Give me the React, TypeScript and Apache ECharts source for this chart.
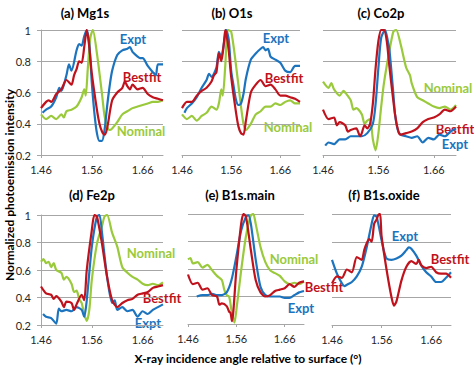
import React, { useEffect, useRef } from "react";
import * as echarts from "echarts";

type Pt = [number, number];

const xTicks = [1.46, 1.56, 1.66];
const xMin = 1.46;
const xMax = 1.7;
const yMin = 0.2;
const yMax = 1;
const yStep = 0.2;

const seriesNames = ["Nominal", "Expt", "Bestfit"];
const panelTitles = ["(a) Mg1s", "(b) O1s", "(c) Co2p", "(d) Fe2p", "(e) B1s.main", "(f) B1s.oxide"];

// (a) Mg1s
const mg1sExpt: Pt[] = [
  [1.463, 0.47], [1.47, 0.49], [1.48, 0.51], [1.49, 0.57], [1.496, 0.63], [1.5, 0.61], [1.51, 0.71], [1.515, 0.78],
  [1.52, 0.74], [1.53, 0.87], [1.535, 0.91], [1.54, 0.9], [1.545, 0.96], [1.55, 1.0], [1.555, 0.91], [1.56, 0.66],
  [1.565, 0.47], [1.57, 0.34], [1.575, 0.29], [1.58, 0.29], [1.585, 0.36], [1.59, 0.51], [1.595, 0.64], [1.6, 0.74],
  [1.61, 0.84], [1.62, 0.87], [1.63, 0.88], [1.635, 0.89], [1.64, 0.86], [1.65, 0.83], [1.655, 0.82], [1.66, 0.82],
  [1.67, 0.77], [1.68, 0.73], [1.686, 0.71], [1.69, 0.78], [1.7, 0.78],
];
const mg1sBest: Pt[] = [
  [1.46, 0.5], [1.47, 0.54], [1.475, 0.55], [1.48, 0.54], [1.49, 0.59], [1.5, 0.62], [1.51, 0.68], [1.52, 0.65],
  [1.525, 0.71], [1.53, 0.75], [1.535, 0.8], [1.54, 0.79], [1.545, 0.89], [1.55, 1.0], [1.555, 0.89], [1.56, 0.72],
  [1.57, 0.49], [1.575, 0.4], [1.58, 0.35], [1.585, 0.33], [1.59, 0.37], [1.6, 0.55], [1.61, 0.6], [1.62, 0.63],
  [1.625, 0.67], [1.63, 0.64], [1.635, 0.62], [1.64, 0.65], [1.65, 0.62], [1.66, 0.63], [1.67, 0.59], [1.68, 0.57],
  [1.69, 0.56], [1.7, 0.55],
];
const mg1sNom: Pt[] = [
  [1.46, 0.46], [1.47, 0.43], [1.48, 0.45], [1.49, 0.43], [1.5, 0.46], [1.505, 0.44], [1.51, 0.48], [1.52, 0.49],
  [1.53, 0.51], [1.54, 0.57], [1.545, 0.62], [1.548, 0.58], [1.552, 0.75], [1.557, 0.95], [1.562, 1.0], [1.57, 0.85],
  [1.58, 0.59], [1.585, 0.45], [1.59, 0.38], [1.595, 0.36], [1.6, 0.37], [1.61, 0.41], [1.62, 0.46], [1.63, 0.48],
  [1.64, 0.5], [1.65, 0.51], [1.66, 0.52], [1.67, 0.53], [1.68, 0.54], [1.69, 0.54], [1.7, 0.55],
];

// (b) O1s
const o1sExpt: Pt[] = [
  [1.465, 0.47], [1.47, 0.5], [1.48, 0.53], [1.49, 0.57], [1.5, 0.63], [1.51, 0.68], [1.515, 0.72], [1.52, 0.7],
  [1.53, 0.76], [1.535, 0.86], [1.54, 0.83], [1.545, 0.91], [1.55, 1.0], [1.555, 0.94], [1.56, 0.74], [1.565, 0.64],
  [1.57, 0.55], [1.575, 0.52], [1.58, 0.53], [1.585, 0.59], [1.59, 0.69], [1.6, 0.81], [1.61, 0.85], [1.62, 0.88],
  [1.625, 0.89], [1.63, 0.87], [1.635, 0.88], [1.64, 0.83], [1.65, 0.81], [1.66, 0.79], [1.67, 0.74], [1.68, 0.73],
  [1.69, 0.77], [1.7, 0.77],
];
const o1sBest: Pt[] = [
  [1.46, 0.5], [1.47, 0.54], [1.48, 0.54], [1.49, 0.58], [1.5, 0.61], [1.51, 0.63], [1.52, 0.67], [1.525, 0.71],
  [1.53, 0.73], [1.535, 0.85], [1.54, 0.8], [1.545, 0.91], [1.548, 1.0], [1.55, 0.98], [1.555, 0.87], [1.56, 0.7],
  [1.57, 0.47], [1.575, 0.38], [1.58, 0.34], [1.585, 0.33], [1.59, 0.42], [1.6, 0.6], [1.61, 0.65], [1.62, 0.68],
  [1.63, 0.64], [1.64, 0.65], [1.65, 0.62], [1.66, 0.58], [1.67, 0.58], [1.68, 0.57], [1.69, 0.56], [1.7, 0.54],
];
const o1sNom: Pt[] = [
  [1.46, 0.46], [1.47, 0.43], [1.48, 0.45], [1.49, 0.42], [1.5, 0.45], [1.51, 0.47], [1.52, 0.51], [1.53, 0.49],
  [1.535, 0.53], [1.54, 0.62], [1.543, 0.58], [1.548, 0.77], [1.553, 1.0], [1.56, 0.99], [1.57, 0.77], [1.58, 0.51],
  [1.585, 0.4], [1.59, 0.36], [1.6, 0.4], [1.61, 0.46], [1.62, 0.48], [1.63, 0.51], [1.64, 0.51], [1.65, 0.53],
  [1.66, 0.52], [1.67, 0.54], [1.68, 0.55], [1.69, 0.53], [1.7, 0.53],
];

// (c) Co2p
const co2pExpt: Pt[] = [
  [1.464, 0.26], [1.47, 0.28], [1.48, 0.27], [1.49, 0.3], [1.5, 0.3], [1.51, 0.32], [1.52, 0.32], [1.53, 0.32],
  [1.54, 0.34], [1.55, 0.4], [1.555, 0.53], [1.56, 0.76], [1.565, 0.95], [1.572, 1.0], [1.577, 0.93], [1.58, 0.87],
  [1.587, 0.59], [1.59, 0.46], [1.595, 0.36], [1.6, 0.33], [1.61, 0.32], [1.62, 0.31], [1.63, 0.32], [1.64, 0.28],
  [1.65, 0.31], [1.66, 0.3], [1.67, 0.33], [1.68, 0.32], [1.69, 0.35], [1.7, 0.37],
];
const co2pBest: Pt[] = [
  [1.46, 0.49], [1.47, 0.43], [1.48, 0.44], [1.485, 0.39], [1.49, 0.41], [1.5, 0.39], [1.505, 0.35], [1.51, 0.36],
  [1.52, 0.37], [1.527, 0.32], [1.53, 0.34], [1.535, 0.39], [1.54, 0.37], [1.545, 0.4], [1.55, 0.53], [1.555, 0.76],
  [1.56, 0.93], [1.565, 1.0], [1.57, 1.0], [1.575, 0.93], [1.58, 0.76], [1.59, 0.46], [1.596, 0.35], [1.6, 0.33],
  [1.61, 0.34], [1.62, 0.35], [1.63, 0.37], [1.64, 0.41], [1.65, 0.43], [1.66, 0.44], [1.67, 0.46], [1.68, 0.49],
  [1.69, 0.48], [1.7, 0.51],
];
const co2pNom: Pt[] = [
  [1.46, 0.67], [1.47, 0.63], [1.475, 0.66], [1.48, 0.62], [1.49, 0.58], [1.497, 0.61], [1.5, 0.6], [1.51, 0.55],
  [1.515, 0.49], [1.52, 0.5], [1.53, 0.46], [1.535, 0.4], [1.54, 0.42], [1.545, 0.43], [1.55, 0.3], [1.555, 0.23],
  [1.56, 0.34], [1.565, 0.51], [1.57, 0.66], [1.58, 0.87], [1.587, 0.99], [1.592, 1.0], [1.6, 0.91], [1.61, 0.76],
  [1.617, 0.71], [1.62, 0.66], [1.63, 0.57], [1.64, 0.55], [1.65, 0.53], [1.66, 0.51], [1.67, 0.5], [1.68, 0.51],
  [1.69, 0.49], [1.7, 0.52],
];

// (d) Fe2p
const fe2pExpt: Pt[] = [
  [1.464, 0.28], [1.47, 0.26], [1.48, 0.25], [1.49, 0.21], [1.495, 0.32], [1.5, 0.3], [1.51, 0.31], [1.52, 0.3],
  [1.53, 0.33], [1.54, 0.31], [1.545, 0.26], [1.55, 0.38], [1.56, 0.77], [1.57, 0.99], [1.575, 1.0], [1.58, 0.87],
  [1.59, 0.55], [1.6, 0.36], [1.605, 0.38], [1.61, 0.31], [1.62, 0.33], [1.63, 0.3], [1.64, 0.31], [1.65, 0.26],
  [1.66, 0.3], [1.67, 0.28], [1.68, 0.31], [1.69, 0.33], [1.7, 0.35],
];
const fe2pBest: Pt[] = [
  [1.46, 0.48], [1.47, 0.43], [1.48, 0.42], [1.485, 0.39], [1.49, 0.41], [1.5, 0.37], [1.505, 0.33], [1.51, 0.37],
  [1.52, 0.36], [1.525, 0.31], [1.53, 0.35], [1.54, 0.42], [1.545, 0.38], [1.55, 0.6], [1.56, 0.89], [1.565, 1.0],
  [1.57, 0.99], [1.58, 0.79], [1.59, 0.55], [1.6, 0.38], [1.61, 0.33], [1.62, 0.36], [1.63, 0.38], [1.64, 0.39],
  [1.65, 0.42], [1.66, 0.43], [1.67, 0.44], [1.68, 0.47], [1.69, 0.48], [1.7, 0.49],
];
const fe2pNom: Pt[] = [
  [1.46, 0.66], [1.465, 0.68], [1.47, 0.65], [1.475, 0.66], [1.48, 0.62], [1.485, 0.65], [1.49, 0.6], [1.5, 0.58],
  [1.505, 0.53], [1.51, 0.55], [1.52, 0.5], [1.525, 0.44], [1.53, 0.45], [1.535, 0.39], [1.54, 0.36], [1.545, 0.28],
  [1.55, 0.23], [1.555, 0.31], [1.56, 0.53], [1.57, 0.79], [1.58, 0.92], [1.585, 0.99], [1.59, 1.0], [1.6, 0.87],
  [1.61, 0.77], [1.62, 0.62], [1.63, 0.58], [1.64, 0.55], [1.65, 0.53], [1.66, 0.5], [1.67, 0.49], [1.68, 0.5],
  [1.69, 0.49], [1.7, 0.51],
];

// (e) B1s.main
const b1sMainExpt: Pt[] = [
  [1.478, 0.4], [1.49, 0.41], [1.5, 0.41], [1.51, 0.42], [1.52, 0.41], [1.53, 0.41], [1.54, 0.43], [1.55, 0.52],
  [1.56, 0.69], [1.57, 0.88], [1.58, 0.98], [1.585, 0.99], [1.59, 0.93], [1.6, 0.67], [1.61, 0.47], [1.62, 0.41],
  [1.63, 0.4], [1.64, 0.4], [1.65, 0.4], [1.66, 0.39], [1.67, 0.39], [1.68, 0.41], [1.69, 0.43], [1.7, 0.44],
];
const b1sMainBest: Pt[] = [
  [1.46, 0.56], [1.47, 0.49], [1.48, 0.5], [1.49, 0.45], [1.5, 0.46], [1.51, 0.41], [1.52, 0.4], [1.525, 0.34],
  [1.53, 0.35], [1.54, 0.33], [1.545, 0.29], [1.548, 0.28], [1.551, 0.22], [1.56, 0.59], [1.57, 0.93], [1.575, 1.0],
  [1.58, 0.98], [1.59, 0.74], [1.6, 0.52], [1.61, 0.43], [1.62, 0.4], [1.63, 0.41], [1.64, 0.44], [1.65, 0.45],
  [1.66, 0.46], [1.67, 0.49], [1.68, 0.47], [1.69, 0.5], [1.7, 0.51],
];
const b1sMainNom: Pt[] = [
  [1.46, 0.67], [1.465, 0.68], [1.47, 0.64], [1.48, 0.65], [1.49, 0.61], [1.5, 0.63], [1.51, 0.59], [1.52, 0.55],
  [1.53, 0.52], [1.535, 0.45], [1.54, 0.41], [1.545, 0.4], [1.55, 0.3], [1.556, 0.21], [1.56, 0.3], [1.57, 0.59],
  [1.58, 0.84], [1.59, 0.99], [1.595, 1.0], [1.6, 0.93], [1.61, 0.76], [1.62, 0.65], [1.63, 0.59], [1.64, 0.57],
  [1.65, 0.55], [1.66, 0.51], [1.67, 0.49], [1.68, 0.5], [1.69, 0.49], [1.7, 0.51],
];

// (f) B1s.oxide
const b1sOxideExpt: Pt[] = [
  [1.46, 0.67], [1.47, 0.57], [1.48, 0.5], [1.485, 0.48], [1.49, 0.49], [1.5, 0.51], [1.51, 0.55], [1.52, 0.62],
  [1.53, 0.76], [1.54, 0.93], [1.545, 0.99], [1.55, 0.98], [1.56, 0.81], [1.565, 0.73], [1.57, 0.68], [1.58, 0.67],
  [1.59, 0.68], [1.6, 0.7], [1.61, 0.74], [1.615, 0.76], [1.62, 0.75], [1.63, 0.7], [1.64, 0.63], [1.65, 0.58],
  [1.66, 0.55], [1.67, 0.51], [1.68, 0.51], [1.69, 0.54], [1.7, 0.58],
];
const b1sOxideBest: Pt[] = [
  [1.46, 0.5], [1.47, 0.55], [1.48, 0.54], [1.49, 0.6], [1.5, 0.58], [1.51, 0.69], [1.52, 0.67], [1.525, 0.74],
  [1.53, 0.79], [1.535, 0.82], [1.54, 0.8], [1.545, 0.93], [1.55, 0.96], [1.553, 0.99], [1.557, 1.0], [1.56, 0.84],
  [1.57, 0.6], [1.58, 0.4], [1.585, 0.34], [1.59, 0.37], [1.6, 0.52], [1.61, 0.62], [1.62, 0.66], [1.63, 0.64],
  [1.635, 0.67], [1.64, 0.63], [1.65, 0.61], [1.66, 0.62], [1.67, 0.58], [1.68, 0.57], [1.69, 0.57], [1.7, 0.54],
];

const FONT = "Lato, 'Open Sans', sans-serif";
const BLUE = "#1C74BF";
const RED = "#C0121C";
const GREEN = "#9ACA3C";
const GRID_COLOR = "#a6a6a6";
const TEXT_COLOR = "#262626";

const colors: Record<string, string> = { Nominal: GREEN, Expt: BLUE, Bestfit: RED };

interface Panel {
  title: string;
  rect: { left: number; top: number; width: number; height: number };
  titlePos: [number, number];
  showY: boolean;
  data: Record<string, Pt[] | null>;
  labels: { name: string; pos: [number, number] }[];
}

const panels: Panel[] = [
  {
    title: panelTitles[0],
    rect: { left: 41, top: 30, width: 122, height: 125 },
    titlePos: [85, 13],
    showY: true,
    data: { Nominal: mg1sNom, Expt: mg1sExpt, Bestfit: mg1sBest },
    labels: [
      { name: "Expt", pos: [133, 39] },
      { name: "Bestfit", pos: [142, 77] },
      { name: "Nominal", pos: [141, 131] },
    ],
  },
  {
    title: panelTitles[1],
    rect: { left: 182, top: 30, width: 118, height: 125 },
    titlePos: [232, 13],
    showY: false,
    data: { Nominal: o1sNom, Expt: o1sExpt, Bestfit: o1sBest },
    labels: [
      { name: "Expt", pos: [276, 38] },
      { name: "Bestfit", pos: [284, 78] },
      { name: "Nominal", pos: [288, 127] },
    ],
  },
  {
    title: panelTitles[2],
    rect: { left: 323, top: 30, width: 133, height: 125 },
    titlePos: [381, 13],
    showY: false,
    data: { Nominal: co2pNom, Expt: co2pExpt, Bestfit: co2pBest },
    labels: [
      { name: "Nominal", pos: [448, 88] },
      { name: "Bestfit", pos: [455, 129] },
      { name: "Expt", pos: [455, 144] },
    ],
  },
  {
    title: panelTitles[3],
    rect: { left: 41, top: 215, width: 122, height: 110 },
    titlePos: [92, 195],
    showY: true,
    data: { Nominal: fe2pNom, Expt: fe2pExpt, Bestfit: fe2pBest },
    labels: [
      { name: "Nominal", pos: [151, 253] },
      { name: "Bestfit", pos: [162, 298] },
      { name: "Expt", pos: [148, 323] },
    ],
  },
  {
    title: panelTitles[4],
    rect: { left: 188, top: 214, width: 116, height: 110 },
    titlePos: [240, 195],
    showY: false,
    data: { Nominal: b1sMainNom, Expt: b1sMainExpt, Bestfit: b1sMainBest },
    labels: [
      { name: "Nominal", pos: [294, 259] },
      { name: "Bestfit", pos: [324, 287] },
      { name: "Expt", pos: [301, 308] },
    ],
  },
  {
    title: panelTitles[5],
    rect: { left: 332, top: 214, width: 119, height: 111 },
    titlePos: [384, 195],
    showY: false,
    data: { Nominal: null, Expt: b1sOxideExpt, Bestfit: b1sOxideBest },
    labels: [
      { name: "Expt", pos: [405, 236] },
      { name: "Bestfit", pos: [450, 259] },
    ],
  },
];

function textEl(text: string, x: number, y: number, fill: string, font: string, rotation = 0) {
  return {
    type: "text",
    x,
    y,
    rotation,
    style: {
      text,
      fill,
      font,
      textAlign: "center",
      textVerticalAlign: "middle",
      align: "center",
      verticalAlign: "middle",
    },
  };
}

export default function App() {
  const ref = useRef<HTMLDivElement>(null);

  useEffect(() => {
    if (!ref.current) return;
    const chart = echarts.init(ref.current, undefined, { renderer: "svg" });

    const grid: any[] = [];
    const xAxis: any[] = [];
    const yAxis: any[] = [];
    const series: any[] = [];
    const graphic: any[] = [];

    panels.forEach((p, i) => {
      grid.push({ ...p.rect, containLabel: false });
      xAxis.push({
        type: "value",
        gridIndex: i,
        min: xMin,
        max: xMax,
        axisLine: { show: true, lineStyle: { color: GRID_COLOR, width: 1 } },
        axisTick: { show: true, customValues: xTicks, length: 3, lineStyle: { color: GRID_COLOR } },
        axisLabel: {
          customValues: xTicks,
          formatter: (v: number) => v.toFixed(2),
          fontSize: 11,
          fontFamily: FONT,
          color: TEXT_COLOR,
          margin: 9,
        },
        splitLine: { show: false },
      });
      yAxis.push({
        type: "value",
        gridIndex: i,
        min: yMin,
        max: yMax,
        interval: yStep,
        axisLine: { show: p.showY, lineStyle: { color: GRID_COLOR, width: 1 } },
        axisTick: { show: p.showY, length: 4, lineStyle: { color: GRID_COLOR } },
        axisLabel: { show: p.showY, fontSize: 11, fontFamily: FONT, color: TEXT_COLOR, margin: 10 },
        splitLine: { show: true, lineStyle: { color: GRID_COLOR, width: 1 } },
      });
      seriesNames.forEach((name) => {
        const d = p.data[name];
        if (!d) return;
        series.push({
          type: "line",
          name,
          xAxisIndex: i,
          yAxisIndex: i,
          data: d,
          showSymbol: false,
          smooth: 0.25,
          lineStyle: { color: colors[name], width: 2.2 },
          itemStyle: { color: colors[name] },
          z: name === "Bestfit" ? 4 : name === "Expt" ? 3 : 2,
        });
      });
      graphic.push(textEl(p.title, p.titlePos[0], p.titlePos[1], "#000", `bold 13px ${FONT}`));
      p.labels.forEach((l) => {
        graphic.push(textEl(l.name, l.pos[0], l.pos[1], colors[l.name], `bold 13px ${FONT}`));
      });
    });

    graphic.push(
      textEl("Normalized photoemission intensity", 9, 185, "#000", `bold 12px ${FONT}`, Math.PI / 2)
    );
    graphic.push(
      textEl("X-ray incidence angle relative to surface (°)", 248, 358, "#000", `bold 12px ${FONT}`)
    );

    chart.setOption({
      animation: false,
      backgroundColor: "#fff",
      grid,
      xAxis,
      yAxis,
      series,
      graphic,
    });

    return () => chart.dispose();
  }, []);

  return (
    <div
      ref={ref}
      style={{ position: "fixed", left: 0, top: 0, width: 474, height: 366, background: "#fff" }}
    />
  );
}
